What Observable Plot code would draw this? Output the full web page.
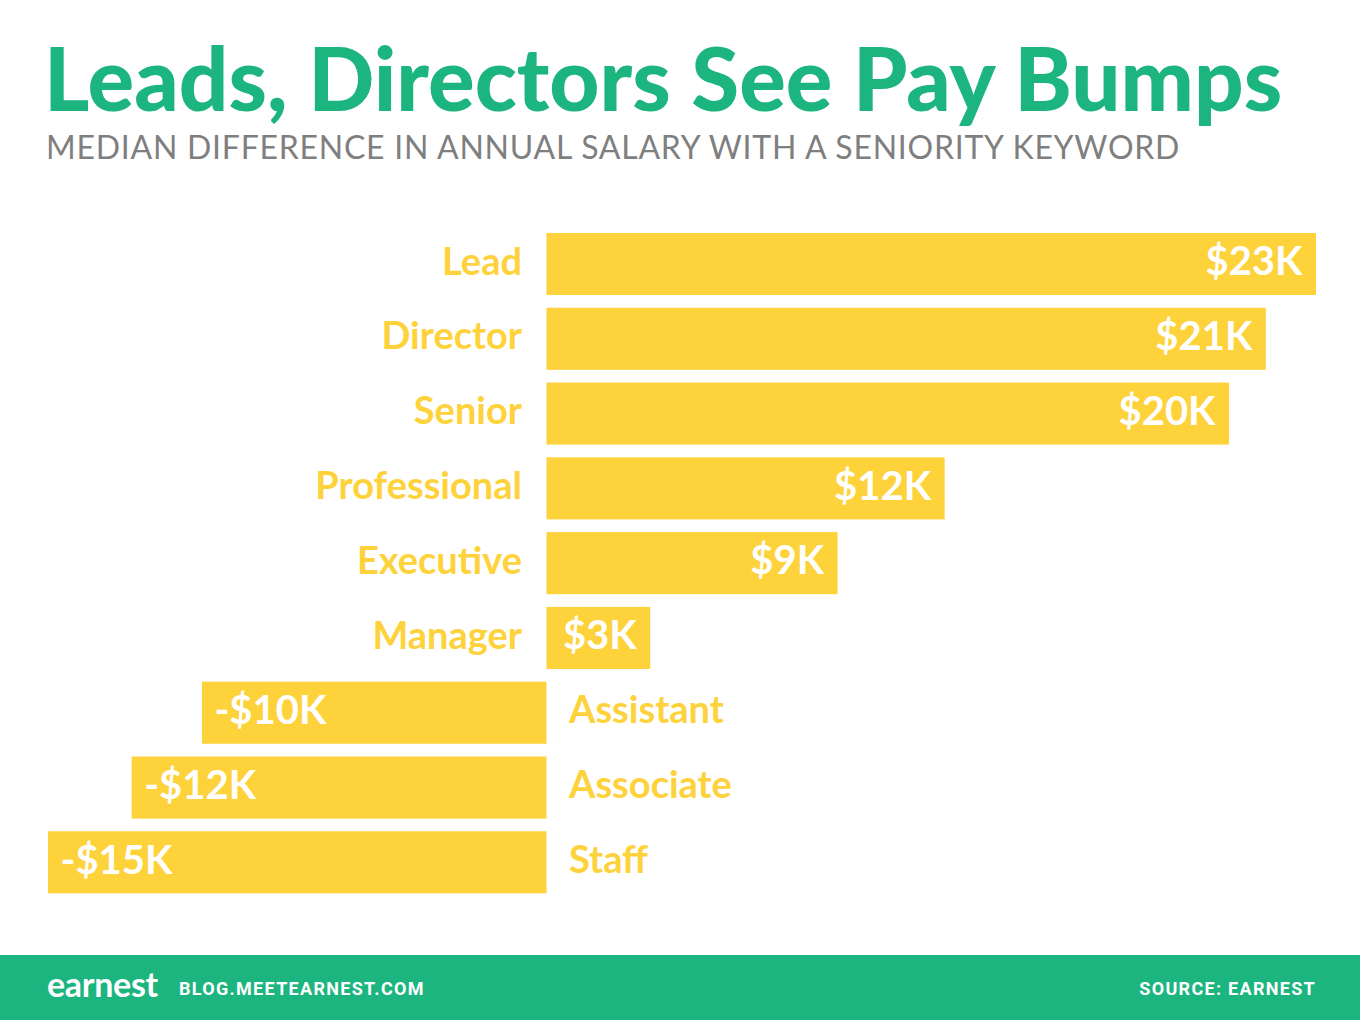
<!DOCTYPE html>
<html>
<head>
<meta charset="utf-8">
<script src="https://cdn.jsdelivr.net/npm/d3@7"></script>
<script src="https://cdn.jsdelivr.net/npm/@observablehq/plot@0.6"></script>
<style>
  html, body { margin: 0; padding: 0; background: #fff; }
  #page { position: relative; width: 1360px; height: 1020px; overflow: hidden; }
  #header { position: relative; height: 200px; }
  #title { position: absolute; left: 44px; top: 36px; margin: 0; font-family: Lato, sans-serif; font-weight: 900; font-size: 87px; line-height: 84px; color: #1cb57f; white-space: nowrap; letter-spacing: 0px; }
  #subtitle { position: absolute; left: 46px; top: 129px; margin: 0; font-family: Lato, sans-serif; font-weight: 400; font-size: 32px; line-height: 36px; color: #7f7f7f; white-space: nowrap; letter-spacing: 0.75px; }
  #chart { height: 755px; }
  #footer { position: relative; height: 65px; background: #1cb57f; color: #fff; }
  #logo { position: absolute; left: 47px; top: 10px; font-family: Lato, sans-serif; font-weight: 700; font-size: 34px; line-height: 38px; letter-spacing: -0.3px; }
  #blog { position: absolute; left: 179px; top: 23px; font-family: Roboto, sans-serif; font-weight: 700; font-size: 18px; line-height: 22px; letter-spacing: 1.3px; }
  #source { position: absolute; right: 44px; top: 23px; font-family: Roboto, sans-serif; font-weight: 700; font-size: 18px; line-height: 22px; letter-spacing: 1.3px; }
</style>
</head>
<body>
<div id="page">
  <div id="header">
    <div id="title">Leads, Directors See Pay Bumps</div>
    <div id="subtitle">MEDIAN DIFFERENCE IN ANNUAL SALARY WITH A SENIORITY KEYWORD</div>
  </div>
  <div id="chart"></div>
  <div id="footer">
    <div id="logo">earnest</div>
    <div id="blog">BLOG.MEETEARNEST.COM</div>
    <div id="source">SOURCE: EARNEST</div>
  </div>
</div>
<script>
const categories = ["Lead", "Director", "Senior", "Professional", "Executive", "Manager", "Assistant", "Associate", "Staff"];
const values = [23, 21.5, 20.4, 11.9, 8.7, 3.1, -10.3, -12.4, -14.9];
const valueLabels = ["$23K", "$21K", "$20K", "$12K", "$9K", "$3K", "-$10K", "-$12K", "-$15K"];

const yellow = "#fed23b";
const data = categories.map((c, i) => ({cat: c, value: values[i], label: valueLabels[i]}));
const pos = data.filter(d => d.value > 0);
const neg = data.filter(d => d.value < 0);
const font = "Lato, sans-serif";

const chart = Plot.plot({
  width: 1360,
  height: 755,
  marginLeft: 48,
  marginRight: 44,
  marginTop: 26.6,
  marginBottom: 55.3,
  x: {domain: [-14.9, 23], axis: null},
  y: {domain: categories, axis: null, paddingInner: 0.17, paddingOuter: 0.085, round: false},
  marks: [
    Plot.barX(data, {x: "value", y: "cat", fill: yellow}),
    Plot.text(pos, {x: 0, y: "cat", text: "cat", dx: -25, dy: -2, textAnchor: "end", fill: yellow, fontSize: 38, fontWeight: 700, fontFamily: font, style: {letterSpacing: "1.5px"}}),
    Plot.text(neg, {x: 0, y: "cat", text: "cat", dx: 22, dy: -2, textAnchor: "start", fill: yellow, fontSize: 38, fontWeight: 700, fontFamily: font, style: {letterSpacing: "1.5px"}}),
    Plot.text(pos, {x: "value", y: "cat", text: "label", dx: -14, dy: -2, textAnchor: "end", fill: "#fff", fontSize: 40, fontWeight: 700, fontFamily: font}),
    Plot.text(neg, {x: "value", y: "cat", text: "label", dx: 12, dy: -2, textAnchor: "start", fill: "#fff", fontSize: 40, fontWeight: 700, fontFamily: font})
  ]
});
document.getElementById("chart").appendChild(chart);
</script>
</body>
</html>
